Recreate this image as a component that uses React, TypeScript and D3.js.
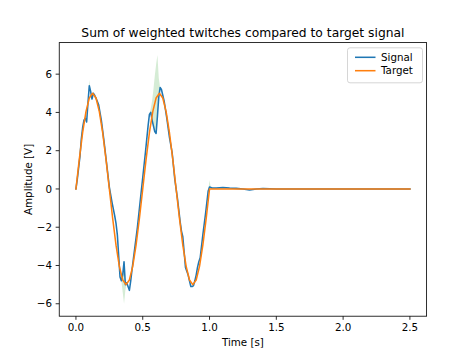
import React from "react";
import * as d3 from "d3";

const W = 474;
const H = 355;

const title = "Sum of weighted twitches compared to target signal";
const xLabel = "Time [s]";
const yLabel = "Amplitude [V]";
const xTicks = [0, 0.5, 1.0, 1.5, 2.0, 2.5];
const yTicks = [-6, -4, -2, 0, 2, 4, 6];
const seriesNames = ["Signal", "Target"];

const signalTime = [0, 0.01, 0.02, 0.03, 0.04, 0.05, 0.06, 0.07, 0.08, 0.09, 0.1, 0.11, 0.12, 0.13, 0.14, 0.15, 0.17, 0.19, 0.21, 0.23, 0.25, 0.27, 0.29, 0.3, 0.31, 0.32, 0.33, 0.34, 0.35, 0.36, 0.37, 0.38, 0.39, 0.4, 0.41, 0.42, 0.44, 0.46, 0.48, 0.5, 0.52, 0.54, 0.55, 0.56, 0.57, 0.58, 0.59, 0.6, 0.61, 0.62, 0.63, 0.64, 0.65, 0.66, 0.68, 0.7, 0.72, 0.74, 0.76, 0.78, 0.79, 0.8, 0.81, 0.82, 0.83, 0.84, 0.85, 0.86, 0.87, 0.88, 0.89, 0.9, 0.91, 0.92, 0.93, 0.95, 0.97, 0.99, 1.0, 1.02, 1.05, 1.1, 1.15, 1.2, 1.25, 1.3, 1.35, 1.4, 1.5, 2.5];
const signalValue = [0, 0.5, 1.1, 1.7, 2.6, 3.2, 3.6, 3.7, 3.5, 4.5, 5.4, 5.1, 4.7, 5.0, 4.9, 4.75, 4.4, 3.6, 2.5, 1.3, 0.1, -0.7, -1.4, -1.8, -2.4, -3.5, -4.6, -4.8, -4.5, -3.8, -5.0, -4.9, -5.1, -5.3, -4.8, -4.2, -3.1, -2.0, -0.7, 0.6, 1.9, 3.3, 3.9, 4.0, 3.6, 3.3, 3.0, 2.9, 3.8, 4.8, 5.3, 5.2, 4.9, 4.6, 3.7, 2.7, 1.9, 0.5, -0.5, -1.7, -2.2, -2.5, -3.3, -4.1, -4.3, -4.5, -4.8, -5.1, -5.1, -5.05, -4.8, -4.5, -4.1, -3.8, -3.6, -2.4, -1.3, -0.1, 0.1, 0.05, 0.05, 0.08, 0.05, 0.03, 0.0, -0.05, 0.0, 0.02, 0.0, 0.0];

const targetTime = [0, 0.025, 0.05, 0.075, 0.1, 0.125, 0.15, 0.175, 0.2, 0.225, 0.25, 0.275, 0.3, 0.325, 0.35, 0.375, 0.4, 0.425, 0.45, 0.475, 0.5, 0.525, 0.55, 0.575, 0.6, 0.625, 0.65, 0.675, 0.7, 0.725, 0.75, 0.775, 0.8, 0.825, 0.85, 0.875, 0.9, 0.925, 0.95, 0.975, 1.0, 2.5];
const targetValue = [0, 1.545, 2.939, 4.045, 4.755, 5.0, 4.755, 4.045, 2.939, 1.545, 0, -1.545, -2.939, -4.045, -4.755, -5.0, -4.755, -4.045, -2.939, -1.545, 0, 1.545, 2.939, 4.045, 4.755, 5.0, 4.755, 4.045, 2.939, 1.545, 0, -1.545, -2.939, -4.045, -4.755, -5.0, -4.755, -4.045, -2.939, -1.545, 0, 0];

// spread band (null = gap between patches)
const bandTime = [0.09, 0.1, 0.11, null, 0.34, 0.35, 0.36, 0.37, 0.38, null, 0.55, 0.56, 0.57, 0.58, 0.59, 0.6, 0.61, 0.62, 0.63, null, 0.99, 1.0, 1.01];
const bandLow = [4.5, 5.4, 5.1, null, -4.8, -5.4, -6.0, -5.3, -4.9, null, 3.9, 4.0, 3.6, 3.3, 3.0, 2.9, 3.8, 4.8, 5.3, null, -0.1, 0.1, 0.05];
const bandHigh = [4.5, 5.7, 5.1, null, -4.8, -4.5, -3.8, -5.0, -4.9, null, 3.9, 4.2, 4.6, 5.2, 5.9, 6.5, 7.0, 5.8, 5.3, null, -0.1, 0.45, 0.05];

const FONT = "DejaVu Sans, sans-serif";

export default function App() {
  const left = 59.25, right = 426.6, top = 42.6, bottom = 316.2;
  const x = d3.scaleLinear().domain([-0.125, 2.625]).range([left, right]);
  const allY = [...signalValue, ...targetValue, ...(bandLow.filter((v) => v !== null) as number[]), ...(bandHigh.filter((v) => v !== null) as number[])];
  const yMin = d3.min(allY) as number;
  const yMax = d3.max(allY) as number;
  const pad = (yMax - yMin) * 0.05;
  const y = d3.scaleLinear().domain([yMin - pad, yMax + pad]).range([bottom, top]);

  const line = d3.line<[number, number]>().x((d) => x(d[0])).y((d) => y(d[1]));
  const sigPts = signalTime.map((t, i) => [t, signalValue[i]] as [number, number]);
  const tgtPts = targetTime.map((t, i) => [t, targetValue[i]] as [number, number]);
  const bandPts = bandTime.map((t, i) => ({ t, lo: bandLow[i], hi: bandHigh[i] }));
  const area = d3
    .area<{ t: number | null; lo: number | null; hi: number | null }>()
    .defined((d) => d.t !== null)
    .x((d) => x(d.t as number))
    .y0((d) => y(d.lo as number))
    .y1((d) => y(d.hi as number));

  const fmtX = (v: number) => v.toFixed(1);
  const fmtY = (v: number) => (v < 0 ? "\u2212" + Math.abs(v) : String(v));
  const colors = ["#1f77b4", "#ff7f0e"];

  return (
    <svg width={W} height={H} style={{ position: "absolute", left: 0, top: 0, background: "#fff" }} fontFamily={FONT}>
      <rect x={0} y={0} width={W} height={H} fill="#fff" />
      <defs>
        <clipPath id="clip">
          <rect x={left} y={top} width={right - left} height={bottom - top} />
        </clipPath>
      </defs>
      <g clipPath="url(#clip)">
        <path d={area(bandPts) || ""} fill="#2ca02c" fillOpacity={0.2} stroke="none" />
        <path d={line(sigPts) || ""} fill="none" stroke={colors[0]} strokeWidth={1.54} strokeLinejoin="round" strokeLinecap="square" />
        <path d={line(tgtPts) || ""} fill="none" stroke={colors[1]} strokeWidth={1.54} strokeLinejoin="round" strokeLinecap="square" />
      </g>
      <rect x={left} y={top} width={right - left} height={bottom - top} fill="none" stroke="#000" strokeWidth={0.82} />
      {xTicks.map((t) => (
        <g key={"x" + t}>
          <line x1={x(t)} x2={x(t)} y1={bottom} y2={bottom + 3.6} stroke="#000" strokeWidth={0.82} />
          <text x={x(t)} y={bottom + 15} fontSize={10.3} textAnchor="middle" fill="#000">
            {fmtX(t)}
          </text>
        </g>
      ))}
      {yTicks.map((t) => (
        <g key={"y" + t}>
          <line x1={left - 3.6} x2={left} y1={y(t)} y2={y(t)} stroke="#000" strokeWidth={0.82} />
          <text x={left - 7.2} y={y(t)} dy="0.36em" fontSize={10.3} textAnchor="end" fill="#000">
            {fmtY(t)}
          </text>
        </g>
      ))}
      <text x={(left + right) / 2} y={346} fontSize={10.3} textAnchor="middle" fill="#000">
        {xLabel}
      </text>
      <text transform={`translate(32,${(top + bottom) / 2}) rotate(-90)`} fontSize={10.3} textAnchor="middle" fill="#000">
        {yLabel}
      </text>
      <text x={(left + right) / 2} y={36.5} fontSize={12.3} textAnchor="middle" fill="#000">
        {title}
      </text>
      <g>
        <rect x={347.5} y={47.8} width={75} height={35} rx={2.5} fill="#fff" fillOpacity={0.8} stroke="#cccccc" strokeWidth={0.8} />
        {seriesNames.map((n, i) => (
          <g key={n}>
            <line x1={355} x2={375.5} y1={57.3 + i * 13.4} y2={57.3 + i * 13.4} stroke={colors[i]} strokeWidth={1.54} />
            <text x={381} y={57.3 + i * 13.4} dy="0.36em" fontSize={10.3} fill="#000">
              {n}
            </text>
          </g>
        ))}
      </g>
    </svg>
  );
}
